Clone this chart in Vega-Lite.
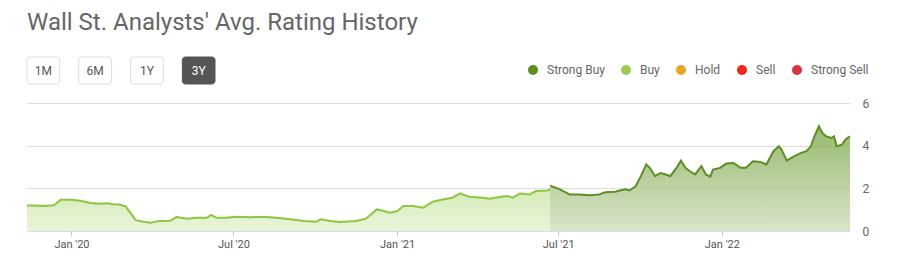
{
  "$schema": "https://vega.github.io/schema/vega-lite/v6.json",
  "padding": {"left": 23, "top": 10, "right": 0, "bottom": 0},
  "background": "#ffffff",
  "bounds": "flush",
  "title": {"text": "Wall St. Analysts' Avg. Rating History", "anchor": "start", "frame": "group", "fontSize": 24, "fontWeight": "normal", "color": "#666666", "font": "Roboto", "offset": 22},
  "datasets": {
    "rating": [
      {"date": "2019-11-12", "value": 1.20, "segment": "Buy"},
      {"date": "2019-11-20", "value": 1.19, "segment": "Buy"},
      {"date": "2019-12-01", "value": 1.17, "segment": "Buy"},
      {"date": "2019-12-12", "value": 1.21, "segment": "Buy"},
      {"date": "2019-12-16", "value": 1.33, "segment": "Buy"},
      {"date": "2019-12-20", "value": 1.46, "segment": "Buy"},
      {"date": "2020-01-01", "value": 1.47, "segment": "Buy"},
      {"date": "2020-01-11", "value": 1.42, "segment": "Buy"},
      {"date": "2020-01-22", "value": 1.31, "segment": "Buy"},
      {"date": "2020-02-03", "value": 1.28, "segment": "Buy"},
      {"date": "2020-02-10", "value": 1.30, "segment": "Buy"},
      {"date": "2020-02-17", "value": 1.25, "segment": "Buy"},
      {"date": "2020-02-24", "value": 1.24, "segment": "Buy"},
      {"date": "2020-03-02", "value": 1.15, "segment": "Buy"},
      {"date": "2020-03-07", "value": 0.86, "segment": "Buy"},
      {"date": "2020-03-13", "value": 0.51, "segment": "Buy"},
      {"date": "2020-03-22", "value": 0.43, "segment": "Buy"},
      {"date": "2020-03-30", "value": 0.39, "segment": "Buy"},
      {"date": "2020-04-05", "value": 0.45, "segment": "Buy"},
      {"date": "2020-04-10", "value": 0.47, "segment": "Buy"},
      {"date": "2020-04-21", "value": 0.48, "segment": "Buy"},
      {"date": "2020-04-28", "value": 0.65, "segment": "Buy"},
      {"date": "2020-05-10", "value": 0.58, "segment": "Buy"},
      {"date": "2020-05-21", "value": 0.62, "segment": "Buy"},
      {"date": "2020-06-01", "value": 0.62, "segment": "Buy"},
      {"date": "2020-06-06", "value": 0.75, "segment": "Buy"},
      {"date": "2020-06-12", "value": 0.62, "segment": "Buy"},
      {"date": "2020-06-23", "value": 0.62, "segment": "Buy"},
      {"date": "2020-07-04", "value": 0.67, "segment": "Buy"},
      {"date": "2020-07-20", "value": 0.65, "segment": "Buy"},
      {"date": "2020-08-07", "value": 0.66, "segment": "Buy"},
      {"date": "2020-08-18", "value": 0.62, "segment": "Buy"},
      {"date": "2020-09-03", "value": 0.55, "segment": "Buy"},
      {"date": "2020-09-18", "value": 0.47, "segment": "Buy"},
      {"date": "2020-10-02", "value": 0.43, "segment": "Buy"},
      {"date": "2020-10-07", "value": 0.55, "segment": "Buy"},
      {"date": "2020-10-18", "value": 0.47, "segment": "Buy"},
      {"date": "2020-10-29", "value": 0.42, "segment": "Buy"},
      {"date": "2020-11-16", "value": 0.47, "segment": "Buy"},
      {"date": "2020-11-27", "value": 0.58, "segment": "Buy"},
      {"date": "2020-12-03", "value": 0.78, "segment": "Buy"},
      {"date": "2020-12-09", "value": 1.01, "segment": "Buy"},
      {"date": "2020-12-16", "value": 0.95, "segment": "Buy"},
      {"date": "2020-12-24", "value": 0.86, "segment": "Buy"},
      {"date": "2021-01-01", "value": 0.93, "segment": "Buy"},
      {"date": "2021-01-08", "value": 1.17, "segment": "Buy"},
      {"date": "2021-01-19", "value": 1.17, "segment": "Buy"},
      {"date": "2021-01-30", "value": 1.09, "segment": "Buy"},
      {"date": "2021-02-10", "value": 1.37, "segment": "Buy"},
      {"date": "2021-02-21", "value": 1.48, "segment": "Buy"},
      {"date": "2021-03-04", "value": 1.56, "segment": "Buy"},
      {"date": "2021-03-13", "value": 1.76, "segment": "Buy"},
      {"date": "2021-03-23", "value": 1.60, "segment": "Buy"},
      {"date": "2021-04-07", "value": 1.56, "segment": "Buy"},
      {"date": "2021-04-15", "value": 1.51, "segment": "Buy"},
      {"date": "2021-04-26", "value": 1.59, "segment": "Buy"},
      {"date": "2021-05-05", "value": 1.64, "segment": "Buy"},
      {"date": "2021-05-11", "value": 1.56, "segment": "Buy"},
      {"date": "2021-05-19", "value": 1.76, "segment": "Buy"},
      {"date": "2021-05-30", "value": 1.71, "segment": "Buy"},
      {"date": "2021-06-06", "value": 1.87, "segment": "Buy"},
      {"date": "2021-06-19", "value": 1.90, "segment": "Buy"},
      {"date": "2021-06-22", "value": 1.95, "segment": "Buy"},
      {"date": "2021-06-22", "value": 2.13, "segment": "Strong Buy"},
      {"date": "2021-07-03", "value": 1.95, "segment": "Strong Buy"},
      {"date": "2021-07-14", "value": 1.71, "segment": "Strong Buy"},
      {"date": "2021-07-25", "value": 1.71, "segment": "Strong Buy"},
      {"date": "2021-08-05", "value": 1.68, "segment": "Strong Buy"},
      {"date": "2021-08-16", "value": 1.71, "segment": "Strong Buy"},
      {"date": "2021-08-23", "value": 1.82, "segment": "Strong Buy"},
      {"date": "2021-09-03", "value": 1.84, "segment": "Strong Buy"},
      {"date": "2021-09-14", "value": 1.95, "segment": "Strong Buy"},
      {"date": "2021-09-19", "value": 1.90, "segment": "Strong Buy"},
      {"date": "2021-09-26", "value": 2.10, "segment": "Strong Buy"},
      {"date": "2021-10-02", "value": 2.57, "segment": "Strong Buy"},
      {"date": "2021-10-08", "value": 3.12, "segment": "Strong Buy"},
      {"date": "2021-10-12", "value": 2.96, "segment": "Strong Buy"},
      {"date": "2021-10-18", "value": 2.57, "segment": "Strong Buy"},
      {"date": "2021-10-24", "value": 2.72, "segment": "Strong Buy"},
      {"date": "2021-10-30", "value": 2.65, "segment": "Strong Buy"},
      {"date": "2021-11-04", "value": 2.57, "segment": "Strong Buy"},
      {"date": "2021-11-11", "value": 2.96, "segment": "Strong Buy"},
      {"date": "2021-11-16", "value": 3.30, "segment": "Strong Buy"},
      {"date": "2021-11-21", "value": 2.96, "segment": "Strong Buy"},
      {"date": "2021-11-26", "value": 2.80, "segment": "Strong Buy"},
      {"date": "2021-12-02", "value": 2.65, "segment": "Strong Buy"},
      {"date": "2021-12-09", "value": 3.04, "segment": "Strong Buy"},
      {"date": "2021-12-14", "value": 2.65, "segment": "Strong Buy"},
      {"date": "2021-12-19", "value": 2.55, "segment": "Strong Buy"},
      {"date": "2021-12-22", "value": 2.88, "segment": "Strong Buy"},
      {"date": "2021-12-30", "value": 2.96, "segment": "Strong Buy"},
      {"date": "2022-01-06", "value": 3.16, "segment": "Strong Buy"},
      {"date": "2022-01-14", "value": 3.19, "segment": "Strong Buy"},
      {"date": "2022-01-22", "value": 2.96, "segment": "Strong Buy"},
      {"date": "2022-01-28", "value": 2.96, "segment": "Strong Buy"},
      {"date": "2022-02-05", "value": 3.27, "segment": "Strong Buy"},
      {"date": "2022-02-13", "value": 3.24, "segment": "Strong Buy"},
      {"date": "2022-02-20", "value": 3.12, "segment": "Strong Buy"},
      {"date": "2022-02-28", "value": 3.74, "segment": "Strong Buy"},
      {"date": "2022-03-06", "value": 3.97, "segment": "Strong Buy"},
      {"date": "2022-03-09", "value": 3.82, "segment": "Strong Buy"},
      {"date": "2022-03-15", "value": 3.30, "segment": "Strong Buy"},
      {"date": "2022-03-23", "value": 3.50, "segment": "Strong Buy"},
      {"date": "2022-03-31", "value": 3.66, "segment": "Strong Buy"},
      {"date": "2022-04-06", "value": 3.74, "segment": "Strong Buy"},
      {"date": "2022-04-11", "value": 3.97, "segment": "Strong Buy"},
      {"date": "2022-04-15", "value": 4.44, "segment": "Strong Buy"},
      {"date": "2022-04-20", "value": 4.91, "segment": "Strong Buy"},
      {"date": "2022-04-24", "value": 4.59, "segment": "Strong Buy"},
      {"date": "2022-04-28", "value": 4.44, "segment": "Strong Buy"},
      {"date": "2022-05-04", "value": 4.36, "segment": "Strong Buy"},
      {"date": "2022-05-07", "value": 4.44, "segment": "Strong Buy"},
      {"date": "2022-05-10", "value": 3.97, "segment": "Strong Buy"},
      {"date": "2022-05-16", "value": 4.05, "segment": "Strong Buy"},
      {"date": "2022-05-20", "value": 4.29, "segment": "Strong Buy"},
      {"date": "2022-05-25", "value": 4.44, "segment": "Strong Buy"}
    ],
    "buttons": [
      {"label": "1M"}, {"label": "6M"}, {"label": "1Y"}, {"label": "3Y"}
    ],
    "legend": [
      {"rating": "Strong Buy"}, {"rating": "Buy"}, {"rating": "Hold"}, {"rating": "Sell"}, {"rating": "Strong Sell"}
    ]
  },
  "vconcat": [
    {
      "width": 188,
      "height": 27,
      "data": {"name": "buttons"},
      "layer": [
        {
          "mark": {"type": "rect", "cornerRadius": 3, "strokeWidth": 1},
          "encoding": {
            "x": {"field": "label", "type": "nominal", "scale": {"domain": ["1M", "6M", "1Y", "3Y"], "paddingInner": 0.37, "paddingOuter": 0}, "axis": null},
            "fill": {"condition": {"test": "datum.label === '3Y'", "value": "#555555"}, "value": "#ffffff"},
            "stroke": {"condition": {"test": "datum.label === '3Y'", "value": "#555555"}, "value": "#dddddd"}
          }
        },
        {
          "mark": {"type": "text", "fontSize": 12, "font": "Roboto"},
          "encoding": {
            "x": {"field": "label", "type": "nominal", "scale": {"domain": ["1M", "6M", "1Y", "3Y"], "paddingInner": 0.37, "paddingOuter": 0}, "axis": null},
            "text": {"field": "label"},
            "color": {"condition": {"test": "datum.label === '3Y'", "value": "#ffffff"}, "value": "#555555"}
          }
        }
      ]
    },
    {
      "width": 823,
      "height": 128,
      "layer": [
        {
          "data": {"name": "rating"},
          "transform": [{"filter": "datum.segment === 'Buy'"}],
          "mark": {"type": "area", "line": {"color": "#8dc63f", "strokeWidth": 2}, "fill": {"gradient": "linear", "x1": 0, "y1": 0, "x2": 0, "y2": 1, "stops": [{"offset": 0, "color": "#c4e399"}, {"offset": 1, "color": "#e0f0cc"}]}},
          "encoding": {
            "x": {"field": "date", "type": "temporal", "title": null,
              "scale": {"type": "utc", "domain": [{"year": 2019, "month": 11, "date": 12, "utc": true}, {"year": 2022, "month": 5, "date": 25, "utc": true}]},
              "axis": {"values": [{"year": 2020, "month": 1, "date": 1, "utc": true}, {"year": 2020, "month": 7, "date": 1, "utc": true}, {"year": 2021, "month": 1, "date": 1, "utc": true}, {"year": 2021, "month": 7, "date": 1, "utc": true}, {"year": 2022, "month": 1, "date": 1, "utc": true}],
                "format": "%b '%y", "domain": false, "grid": false, "ticks": true, "tickSize": 5, "tickColor": "#cccccc", "labelColor": "#555555", "labelFontSize": 11, "labelPadding": 2, "labelFont": "Roboto"}},
            "y": {"field": "value", "type": "quantitative", "title": null,
              "scale": {"domain": [0, 6], "nice": false},
              "axis": {"orient": "right", "values": [0, 2, 4, 6], "grid": true, "gridColor": "#dddddd", "domain": false, "ticks": false, "labelPadding": 12, "labelFontSize": 12, "labelColor": "#666666", "labelFont": "Roboto"}}
          }
        },
        {
          "data": {"name": "rating"},
          "transform": [{"filter": "datum.segment === 'Strong Buy'"}],
          "mark": {"type": "area", "line": {"color": "#5b8f22", "strokeWidth": 2}, "fill": {"gradient": "linear", "x1": 0, "y1": 0, "x2": 0, "y2": 1, "stops": [{"offset": 0, "color": "#6c9c30"}, {"offset": 1, "color": "#c8dab4"}]}},
          "encoding": {
            "x": {"field": "date", "type": "temporal"},
            "y": {"field": "value", "type": "quantitative"}
          }
        },
        {
          "data": {"name": "legend"},
          "mark": {"type": "point", "filled": true, "opacity": 0, "size": 0, "strokeWidth": 0},
          "encoding": {
            "color": {"field": "rating", "type": "nominal",
              "scale": {"domain": ["Strong Buy", "Buy", "Hold", "Sell", "Strong Sell"], "range": ["#5b8f22", "#9acd4e", "#e8a623", "#f0261a", "#d9333f"]},
              "legend": {"orient": "none", "legendX": 500, "legendY": 7, "direction": "horizontal", "title": null, "symbolType": "circle", "symbolSize": 100, "symbolOpacity": 1, "symbolStrokeWidth": 0, "labelFontSize": 12, "labelColor": "#666666", "labelFont": "Roboto", "labelOffset": 8, "columnPadding": 15, "padding": 0}}
          }
        }
      ]
    }
  ],
  "spacing": 19,
  "resolve": {"scale": {"x": "independent"}},
  "config": {"view": {"stroke": null}, "font": "Roboto"}
}
